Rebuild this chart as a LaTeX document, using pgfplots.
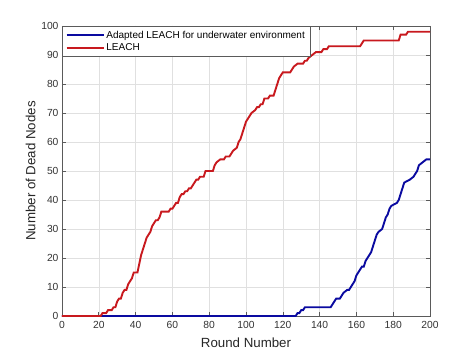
\documentclass[border=0pt]{standalone}
\usepackage{pgfplots}
\pgfplotsset{compat=1.18}
\usepackage{fontspec}
\setmainfont{Liberation Sans}
\definecolor{mblue}{RGB}{10,10,160}
\definecolor{mred}{RGB}{200,25,30}
\definecolor{axgray}{RGB}{90,90,90}
\begin{document}
\begin{tikzpicture}[x=1pt,y=1pt]
\begin{axis}[
  name=ax,
  at={(0,0)}, anchor=south west,
  scale only axis,
  width=368pt, height=290pt,
  xmin=0, xmax=200, ymin=0, ymax=100,
  clip=false,
  set layers,
  xtick={0,20,...,200}, ytick={0,10,...,100},
  grid=major,
  major grid style={draw=black!12, line width=0.5pt},
  axis line style={draw=axgray, line width=0.6pt},
  tick style={draw=axgray, line width=0.6pt},
  tick align=inside,
  major tick length=4pt,
  ticklabel style={font=\fontsize{10.3}{12}\selectfont, text=black!80},
  xticklabel style={yshift=-2pt},
  /pgf/number format/assume math mode=true,
  xlabel={Round Number},
  ylabel={Number of Dead Nodes},
  label style={font=\fontsize{13.3}{15}\selectfont, text=black!85},
  xlabel style={yshift=-2pt},
  ylabel style={yshift=-1pt},
  legend style={at={(0,1)}, anchor=north west, draw=axgray, fill=white,
    font=\fontsize{10}{12}\selectfont, inner xsep=3.5pt, inner ysep=2.5pt, row sep=0pt,
    line width=0.6pt},
  legend cell align=left,
  legend image code/.code={\draw[#1, line width=1.6pt] (0pt,0pt) -- (37pt,0pt);},
]
\addplot[mblue, line width=1.9pt] coordinates {
(0,0) (127,0) (128,1) (129,1) (130,2) (131,2) (132,3) (146,3) (147,4) (148,5) (149,6) (151,6)
(152,7) (153,8) (155,9) (156,9) (157,10) (158,11) (159,12) (160,14) (161,15) (162,16) (163,17)
(164,17) (165,19) (166,20) (167,21) (168,22) (169,24) (170,26) (171,28) (172,29) (174,30)
(175,32) (176,34) (177,35) (178,37) (179,38) (182,39) (183,40) (184,42) (185,44) (186,46)
(189,47) (191,48) (192,49) (193,50) (194,52) (196,53) (198,54) (200,54)
};
\addlegendentry{Adapted LEACH for underwater environment}
\addplot[mred, line width=1.9pt] coordinates {
(0,0) (21,0) (22,1) (24,1) (25,2) (27,2) (28,3) (29,3) (30,5) (31,6) (32,6) (33,8) (34,9)
(35,9) (36,11) (37,12) (38,13) (39,15) (41,15) (42,18) (43,21) (44,23) (45,25) (46,27)
(47,28) (48,29) (49,31) (50,32) (51,33) (52,33) (53,34) (54,36) (58,36) (59,37) (60,37)
(61,38) (62,39) (63,39) (64,41) (65,42) (66,42) (67,43) (68,43) (69,44) (70,44) (71,45)
(72,46) (73,47) (74,47) (75,48) (77,48) (78,50) (82,50) (83,52) (84,53) (86,54) (88,54)
(89,55) (91,55) (92,56) (93,57) (95,58) (96,60) (97,61) (98,63) (99,65) (100,67) (101,68)
(102,69) (103,70) (105,71) (106,72) (107,72) (108,73) (109,73) (110,75) (112,75) (113,76)
(115,76) (116,78) (117,80) (118,82) (119,83) (120,84) (124,84) (125,85) (126,86) (128,87)
(131,87) (132,88) (133,88) (134,89) (136,90) (138,91) (141,91) (142,92) (144,92) (145,93)
(162,93) (163,94) (164,95) (183,95) (184,97) (187,97) (188,98) (200,98)
};
\addlegendentry{LEACH}
\end{axis}
\path[use as bounding box] (-62,-39) rectangle (412,316);
\end{tikzpicture}
\end{document}
